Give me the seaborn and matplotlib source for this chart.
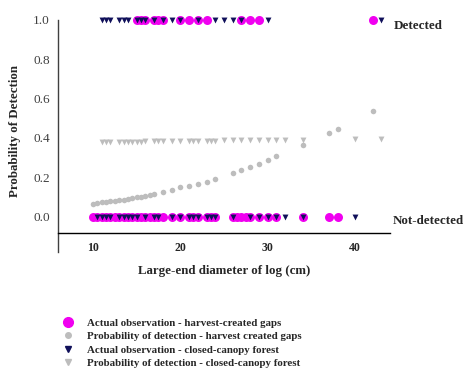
import matplotlib
matplotlib.use("Agg")
import matplotlib.pyplot as plt
import seaborn as sns
import pandas as pd
from matplotlib.lines import Line2D

sns.set_style("white")
plt.rcParams['font.family'] = ['Liberation Serif', 'DejaVu Serif']

# Actual observations - harvest-created gaps (diameter, detected 1/0)
gap_det_x = [15, 15.5, 16, 17, 17.5, 18, 20, 21, 22, 23, 27, 28, 29, 42]
gap_non_x = [10, 10.5, 11, 11.5, 12, 12.5, 13, 13.5, 14, 14.5, 15, 15.5, 16, 16.5,
             17, 17.5, 18, 19, 20, 21, 21.5, 22, 23, 23.5, 24, 26, 26.5, 27, 27.5,
             28, 29, 30, 31, 34, 37, 38]
# Actual observations - closed-canopy forest
cc_det_x = [11, 11.5, 12, 13, 13.5, 14, 15, 15.5, 16, 17, 18, 19, 20, 22, 24, 25, 26,
            27, 30, 43]
cc_non_x = [10.5, 11, 11.5, 12, 13, 13.5, 14, 14.5, 15, 16, 17, 17.5, 19, 20, 21, 21.5,
            22, 23, 23.5, 24, 26, 28, 29, 30, 31, 32, 34, 40]

# Probability of detection - harvest created gaps
gap_prob_x = [10, 10.5, 11, 11.5, 12, 12.5, 13, 13.5, 14, 14.5, 15, 15.5, 16, 16.5,
              17, 18, 19, 20, 21, 22, 23, 24, 26, 27, 28, 29, 30, 31, 34, 37, 38, 42]
gap_prob_y = [0.066, 0.069, 0.072, 0.075, 0.078, 0.081, 0.084, 0.087, 0.091, 0.094,
              0.098, 0.102, 0.106, 0.110, 0.116, 0.124, 0.133, 0.150, 0.158, 0.167,
              0.175, 0.192, 0.221, 0.235, 0.252, 0.269, 0.286, 0.306, 0.366, 0.427,
              0.447, 0.536]
# Probability of detection - closed-canopy forest
cc_prob_x = [11, 11.5, 12, 13, 13.5, 14, 14.5, 15, 15.5, 16, 17, 17.5, 18, 19, 20, 21,
             21.5, 22, 23, 23.5, 24, 25, 26, 27, 28, 29, 30, 31, 32, 34, 40, 43]
cc_prob_y = [0.380, 0.380, 0.380, 0.381, 0.381, 0.381, 0.382, 0.382, 0.382, 0.383,
             0.383, 0.384, 0.384, 0.384, 0.385, 0.385, 0.386, 0.386, 0.386, 0.387,
             0.387, 0.388, 0.388, 0.389, 0.389, 0.390, 0.390, 0.391, 0.391, 0.392,
             0.395, 0.397]

legend_labels = ["Actual observation - harvest-created gaps",
                 "Probability of detection - harvest created gaps",
                 "Actual observation - closed-canopy forest",
                 "Probability of detection - closed-canopy forest"]

MAG = "#F000F0"
NAVY = "#10105A"
GRAY = "#BDBDBD"

fig = plt.figure(figsize=(4.74, 3.75), dpi=100)
ax = fig.add_axes([58/474, 1-252/375, 332/474, 232/375])

gap_obs = pd.DataFrame({"x": gap_det_x + gap_non_x,
                        "y": [1.0]*len(gap_det_x) + [0.0]*len(gap_non_x)})
cc_obs = pd.DataFrame({"x": cc_det_x + cc_non_x,
                       "y": [1.0]*len(cc_det_x) + [0.0]*len(cc_non_x)})
gap_p = pd.DataFrame({"x": gap_prob_x, "y": gap_prob_y})
cc_p = pd.DataFrame({"x": cc_prob_x, "y": cc_prob_y})

kw = dict(ax=ax, legend=False, linewidth=0, clip_on=False)
sns.scatterplot(data=gap_obs, x="x", y="y", color=MAG, marker="o", s=42, zorder=3, **kw)
sns.scatterplot(data=gap_p, x="x", y="y", color=GRAY, marker="o", s=16, zorder=3, **kw)
sns.scatterplot(data=cc_obs, x="x", y="y", color=NAVY, marker="v", s=18, zorder=4, **kw)
sns.scatterplot(data=cc_p, x="x", y="y", color=GRAY, marker="v", s=18, zorder=3, **kw)

ax.set_xlim(6, 44)
ax.set_ylim(-0.18, 1.0)
ax.set_xlabel("")
ax.set_ylabel("")

for s in ["top", "right"]:
    ax.spines[s].set_visible(False)
ax.spines["bottom"].set_position(("data", -0.085))
ax.spines["bottom"].set_color("black")
ax.spines["left"].set_color("#404040")
ax.spines["bottom"].set_linewidth(1.0)
ax.spines["left"].set_linewidth(1.0)

ax.set_xticks([10, 20, 30, 40])
ax.set_xticklabels(["10", "20", "30", "40"], fontweight="bold", fontsize=8.5)
ax.set_yticks([0.0, 0.2, 0.4, 0.6, 0.8, 1.0])
ax.set_yticklabels(["0.0", "0.2", "0.4", "0.6", "0.8", "1.0"], fontsize=9.5, color="#404040")
ax.tick_params(axis="x", direction="out", length=4, width=1, color="black", pad=2)
ax.tick_params(axis="y", direction="out", length=4, width=1, color="#404040", pad=2)

fig.text(224/474, 1-271/375, "Large-end diameter of log (cm)", ha="center", va="center",
         fontweight="bold", fontsize=9.3)
fig.text(15/474, 1-131/375, "Probability of Detection", ha="center", va="center",
         rotation=90, fontweight="bold", fontsize=9.3)
fig.text(394/474, 1-26/375, "Detected", ha="left", va="center", fontweight="bold", fontsize=9.4)
fig.text(393/474, 1-221/375, "Not-detected", ha="left", va="center", fontweight="bold", fontsize=9.4)

handles = [Line2D([], [], linestyle="none", marker="o", markersize=7, color=MAG),
           Line2D([], [], linestyle="none", marker="o", markersize=4, color=GRAY),
           Line2D([], [], linestyle="none", marker="v", markersize=4.5, color=NAVY),
           Line2D([], [], linestyle="none", marker="v", markersize=4.5, color=GRAY)]
leg = fig.legend(handles, legend_labels, loc="upper left", bbox_to_anchor=(62.5/474, 1-318/375),
                 frameon=False, prop={"weight": "bold", "size": 7.8}, handlelength=1.0,
                 handletextpad=1.26, labelspacing=0.36, borderpad=0, borderaxespad=0)

fig.savefig("out.png", dpi=100)
